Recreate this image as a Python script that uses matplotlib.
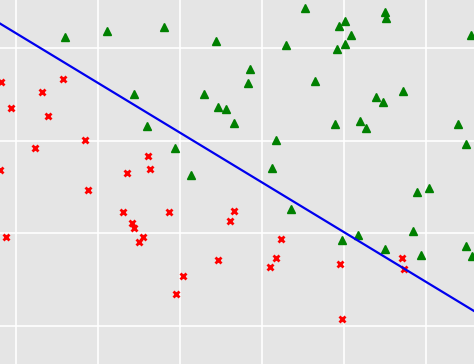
import matplotlib.pyplot as plt

plt.style.use('ggplot')

# classe positiva (triangulos verdes)
pos_x = [46.0, 51.1, 58.0, 64.4, 75.2, 80.1, 79.4, 85.0, 85.1, 80.9, 80.1, 79.1,
         72.9, 68.5, 68.3, 76.5, 95.5, 54.4, 62.9, 64.6, 65.6, 66.6, 56.0, 83.9,
         84.8, 87.2, 78.9, 82.0, 82.7, 93.9, 94.9, 71.7, 59.4, 71.2, 61.3, 88.9,
         90.4, 73.5, 88.4, 81.7, 79.8, 85.0, 89.4, 94.9, 95.6]
pos_y = [91.2, 91.8, 92.3, 90.8, 94.3, 92.9, 92.4, 93.9, 93.2, 91.4, 90.4, 89.9,
         90.3, 87.7, 86.2, 86.4, 91.4, 85.0, 85.0, 83.6, 83.4, 81.9, 81.6, 84.7,
         84.2, 85.4, 81.8, 82.1, 81.4, 81.8, 79.6, 80.1, 79.2, 77.1, 76.3, 74.5,
         74.9, 72.6, 70.3, 69.8, 69.3, 68.3, 67.7, 68.6, 67.6]

# classe negativa (x vermelhos)
neg_x = [38.2, 45.7, 43.2, 39.4, 43.9, 48.4, 42.3, 38.0, 56.1, 56.3, 53.5, 48.8,
         53.0, 54.1, 54.4, 55.5, 55.0, 38.8, 58.7, 66.6, 66.1, 72.3, 64.6, 60.4,
         59.5, 71.0, 71.7, 79.5, 79.8, 87.1, 87.3]
neg_y = [86.3, 86.7, 85.3, 83.5, 82.7, 80.1, 79.2, 76.8, 78.3, 76.9, 76.5, 74.7,
         72.3, 71.1, 70.6, 69.6, 69.1, 69.6, 72.3, 72.4, 71.3, 69.4, 67.1, 65.4,
         63.5, 66.4, 67.3, 66.7, 60.8, 67.3, 66.2]

# fronteira de decisao
fronteira_x = [38.05, 95.85]
fronteira_y = [92.64, 61.62]

fig = plt.figure(figsize=(4.74, 3.64), dpi=100)
ax = fig.add_axes([0, 0, 1, 1])

ax.plot(pos_x, pos_y, 'g^', markersize=6, markeredgewidth=1)
ax.plot(neg_x, neg_y, 'rx', markersize=5, markeredgewidth=2)
ax.plot(fronteira_x, fronteira_y, color='#0000ee', linewidth=1.6)

ax.set_xlim(38.05, 95.85)
ax.set_ylim(55.9, 95.18)
ax.set_xticks([40, 50, 60, 70, 80, 90])
ax.set_yticks([60, 70, 80, 90])
ax.tick_params(length=0, labelbottom=False, labelleft=False)
ax.grid(True, color='white', linewidth=1.2)
for s in ax.spines.values():
    s.set_visible(False)

plt.savefig('out.png', dpi=100)
